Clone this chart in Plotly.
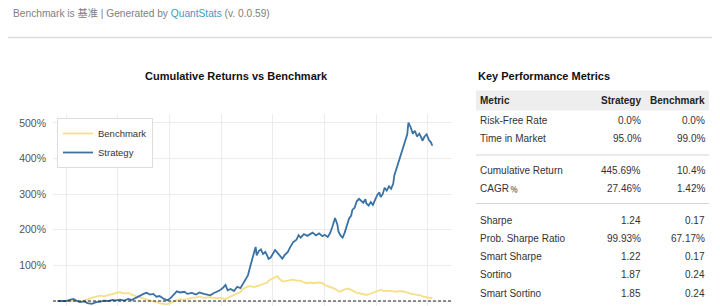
import plotly.graph_objects as go

W, H = 720, 306

dates = [
    "2016-11-01", "2016-12-01",
    "2017-01-01", "2017-02-01", "2017-02-22", "2017-03-08", "2017-04-08", "2017-05-08", "2017-06-01",
    "2017-07-01", "2017-08-01", "2017-09-01", "2017-09-23", "2017-10-23", "2017-11-23", "2017-12-16",
    "2018-01-16", "2018-02-15", "2018-03-16", "2018-04-08", "2018-05-08", "2018-06-08", "2018-07-01",
    "2018-07-23", "2018-08-16", "2018-09-08", "2018-10-01", "2018-10-23", "2018-11-23", "2018-12-16",
    "2019-01-08", "2019-02-01", "2019-02-22", "2019-03-16", "2019-04-16", "2019-05-08", "2019-06-08",
    "2019-07-08", "2019-08-01", "2019-09-01", "2019-09-23", "2019-10-16", "2019-11-08", "2019-12-08",
    "2019-12-23",
    "2020-01-16", "2020-02-01", "2020-02-16", "2020-03-08", "2020-04-01", "2020-04-23", "2020-05-16",
    "2020-06-01", "2020-06-23", "2020-07-08", "2020-07-23", "2020-08-08", "2020-08-23", "2020-09-01",
    "2020-09-08", "2020-09-23", "2020-10-08", "2020-10-23", "2020-11-08", "2020-11-23", "2020-12-01",
    "2020-12-16",
    "2021-01-01", "2021-01-16", "2021-02-01", "2021-02-15", "2021-03-01", "2021-03-08", "2021-03-23",
    "2021-04-16", "2021-05-01", "2021-05-23", "2021-06-16", "2021-07-01", "2021-07-16", "2021-08-08",
    "2021-09-01", "2021-09-23", "2021-10-08", "2021-11-01", "2021-11-23", "2021-12-16",
    "2022-01-01", "2022-01-23", "2022-02-08", "2022-02-22", "2022-03-16", "2022-04-01", "2022-04-08",
    "2022-04-23", "2022-05-08", "2022-05-23", "2022-06-08", "2022-06-23", "2022-07-08", "2022-07-16",
    "2022-08-01", "2022-08-16", "2022-09-01", "2022-09-16", "2022-10-01", "2022-10-16", "2022-10-23",
    "2022-11-08", "2022-11-23", "2022-12-08", "2022-12-23",
    "2023-01-08", "2023-01-23", "2023-02-01", "2023-02-15", "2023-03-01", "2023-03-16", "2023-04-01",
    "2023-04-16", "2023-05-01", "2023-05-08", "2023-05-23", "2023-06-08", "2023-06-23", "2023-07-08",
    "2023-07-23", "2023-08-08", "2023-08-16", "2023-09-01", "2023-09-16", "2023-10-01", "2023-10-16",
    "2023-11-01", "2023-11-16", "2023-11-23", "2023-12-08", "2023-12-23",
    "2024-01-08", "2024-01-23", "2024-02-01",
]

strategy = [
    0, 1,
    0, 4, 6, 2, -3, -1, -6,
    -8, -3, -2, 1, 0, 3, 2,
    4, 1, 6, 3, 10, 15, 20,
    23, 18, 20, 12, 14, 6, 2,
    8, 18, 27, 24, 26, 20, 23,
    18, 24, 20, 17, 16, 22, 26,
    30,
    38, 45, 30, 34, 28, 40, 36,
    46, 62, 72, 95, 115, 140, 152,
    128, 140, 145, 132, 138, 126, 118,
    122,
    135, 143, 136, 128, 122, 119, 128,
    138, 150, 165, 172, 185, 178, 188,
    183, 188, 192, 184, 190, 182,
    186, 180, 190, 205, 233, 215, 196,
    184, 178, 192, 215, 232, 240, 256,
    262, 280, 287, 280, 276, 286, 274,
    268, 278, 270, 285,
    298, 305, 292, 300, 318, 310, 322,
    315, 330, 352, 370, 392, 410, 425,
    448, 468, 501, 488, 470, 478, 462,
    470, 458, 450, 462, 468,
    452, 445, 436,
]

benchmark = [
    0, -1,
    1, -1, 1, 2, -3, 2, 6,
    9, 12, 15, 13, 17, 19, 22,
    25, 21, 23, 18, 14, 10, 6,
    4, 2, -1, -3, -6, -8, -9,
    -5, -1, 2, 5, 3, 6, 9,
    10, 12, 9, 10, 11, 8, 10,
    9,
    7, 5, 9, 13, 17, 21, 25,
    33, 39, 41, 42, 40, 39, 40,
    42, 43, 45, 46, 48, 52, 57,
    60,
    64, 67, 70, 62, 58, 56, 55,
    57, 59, 60, 57, 56, 57, 52,
    50, 52, 50, 51, 52, 50,
    45, 42, 40, 38, 34, 30, 27,
    27, 29, 32, 35, 34, 31, 28,
    26, 23, 22, 21, 20, 18, 17,
    19, 21, 23, 25,
    28, 30, 31, 29, 28, 28, 29,
    29, 27, 26, 27, 28, 28, 27,
    26, 25, 23, 21, 20, 18, 17,
    16, 15, 13, 12, 11,
    9, 8, 10.4,
]

y_ticks = [0, 100, 200, 300, 400, 500]

metric_names = ["Risk-Free Rate", "Time in Market", "Cumulative Return", "CAGR﹪",
                "Sharpe", "Prob. Sharpe Ratio", "Smart Sharpe", "Sortino", "Smart Sortino"]
metric_strategy = ["0.0%", "95.0%", "445.69%", "27.46%", "1.24", "99.93%", "1.22", "1.87", "1.85"]
metric_benchmark = ["0.0%", "99.0%", "10.4%", "1.42%", "0.17", "67.17%", "0.17", "0.24", "0.24"]
row_y_px = [121, 139, 170, 188.5, 220.5, 238.5, 256.5, 274.5, 293]

assert len(dates) == len(strategy) == len(benchmark)

FONT = "Liberation Sans, Arial, Noto Sans CJK SC, sans-serif"
BLUE = "#3b72a4"
YELLOW = "#f6df86"


def py(p):
    return 1 - p / H


def px(p):
    return p / W


fig = go.Figure()
fig.add_trace(go.Scatter(x=dates, y=benchmark, mode="lines", name="Benchmark",
                         line=dict(color=YELLOW, width=1.8)))
fig.add_trace(go.Scatter(x=dates, y=strategy, mode="lines", name="Strategy",
                         line=dict(color=BLUE, width=1.8)))

annotations = []
shapes = []

# header
annotations.append(dict(
    x=px(11), y=py(13), xref="paper", yref="paper", xanchor="left", yanchor="middle",
    showarrow=False, font=dict(family=FONT, size=10.2, color="#808080"),
    text='Benchmark is 基准 | Generated by <span style="color:#3f9cc0">QuantStats</span> (v. 0.0.59)'))
shapes.append(dict(type="line", xref="paper", yref="paper", x0=px(8), x1=px(712),
                   y0=py(37.5), y1=py(37.5), line=dict(color="#dcdcdc", width=1.5)))

# chart title
annotations.append(dict(
    x=px(236), y=py(75.5), xref="paper", yref="paper", xanchor="center", yanchor="middle",
    showarrow=False, font=dict(family=FONT, size=11, color="#111111"),
    text="<b>Cumulative Returns vs Benchmark</b>"))

# zero dashed line
shapes.append(dict(type="line", xref="x domain", yref="y", x0=0, x1=1, y0=0, y1=0,
                   line=dict(color="#222222", width=1, dash="3px,2px")))

# metrics table
annotations.append(dict(
    x=px(476), y=py(75.5), xref="paper", yref="paper", xanchor="left", yanchor="middle",
    showarrow=False, font=dict(family=FONT, size=11, color="#111111"),
    text="<b>Key Performance Metrics</b>"))
shapes.append(dict(type="rect", xref="paper", yref="paper", x0=px(476), x1=px(709),
                   y0=py(110.5), y1=py(90.5), fillcolor="#eeeeee", line=dict(width=0),
                   layer="below"))
for txt, xx, anc in [("Metric", 478, "left"), ("Strategy", 643, "right"), ("Benchmark", 707, "right")]:
    annotations.append(dict(
        x=px(xx), y=py(101), xref="paper", yref="paper", xanchor=anc, yanchor="middle",
        showarrow=False, font=dict(family=FONT, size=10, color="#222222"),
        text="<b>%s</b>" % txt))
for name, s, b, yy in zip(metric_names, metric_strategy, metric_benchmark, row_y_px):
    annotations.append(dict(x=px(478), y=py(yy), xref="paper", yref="paper", xanchor="left",
                            yanchor="middle", showarrow=False,
                            font=dict(family=FONT, size=10, color="#333333"), text=name))
    annotations.append(dict(x=px(643), y=py(yy), xref="paper", yref="paper", xanchor="right",
                            yanchor="middle", showarrow=False,
                            font=dict(family=FONT, size=10, color="#333333"), text=s))
    annotations.append(dict(x=px(707), y=py(yy), xref="paper", yref="paper", xanchor="right",
                            yanchor="middle", showarrow=False,
                            font=dict(family=FONT, size=10, color="#333333"), text=b))
for yy in [155, 203.5]:
    shapes.append(dict(type="line", xref="paper", yref="paper", x0=px(476), x1=px(709),
                       y0=py(yy), y1=py(yy), line=dict(color="#d6d6d6", width=1)))

fig.update_layout(
    width=W, height=H,
    margin=dict(l=0, r=0, t=0, b=0),
    paper_bgcolor="white", plot_bgcolor="white",
    font=dict(family=FONT, size=10, color="#555555"),
    showlegend=True,
    legend=dict(x=px(57), y=py(118), xanchor="left", yanchor="top",
                bgcolor="white", bordercolor="#dddddd", borderwidth=1,
                font=dict(family=FONT, size=9.5, color="#333333"),
                itemwidth=30, tracegroupgap=0),
    xaxis=dict(domain=[px(53), px(452)], type="date",
               range=["2016-09-30", "2024-06-19"],
               tick0="2017-01-01", dtick="M12", showticklabels=False,
               showgrid=True, gridcolor="#ececec", gridwidth=1,
               zeroline=False, showline=False, ticks=""),
    yaxis=dict(domain=[0, 1 - 113.7 / H], range=[-14, 526],
               tickvals=y_ticks, ticktext=["%d%%" % v for v in y_ticks],
               showgrid=True, gridcolor="#ececec", gridwidth=1,
               zeroline=False, showline=False, ticks="", ticklabelstandoff=6,
               tickfont=dict(family=FONT, size=10.5, color="#555555")),
    annotations=annotations,
    shapes=shapes,
)

fig.write_html("out.html")
